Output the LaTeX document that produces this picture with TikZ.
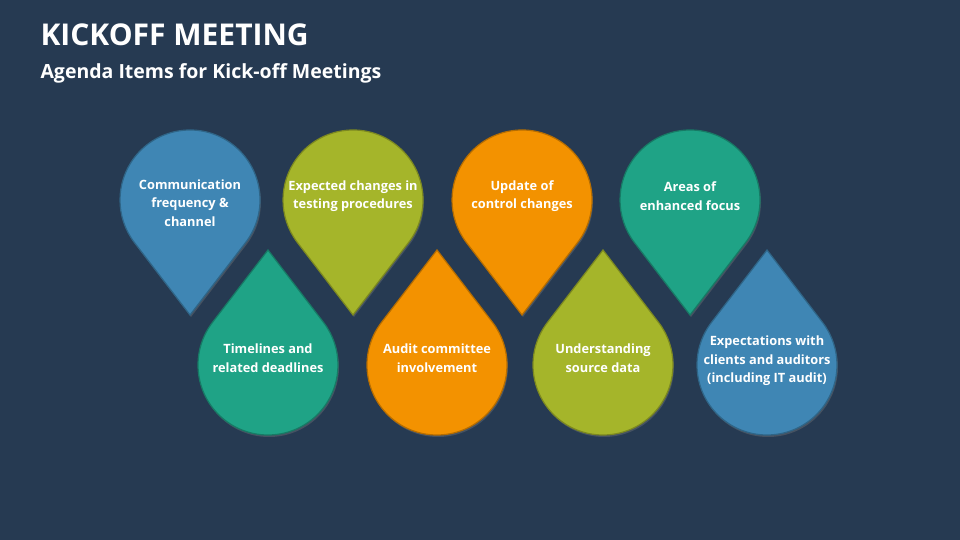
\documentclass[tikz,border=0pt]{standalone}
\usepackage{fontspec}
\setmainfont{Open Sans}
\usetikzlibrary{shadows}
\definecolor{bg}{HTML}{263A52}
\definecolor{cblue}{HTML}{3F86B4}
\definecolor{colive}{HTML}{A5B52A}
\definecolor{corange}{HTML}{F39200}
\definecolor{cteal}{HTML}{1FA386}
\tikzset{
  droptxt/.style={text=white,align=center,font=\fontsize{12.8}{18.5}\selectfont\bfseries},
  dropfill/.style={fill=#1,draw=#1!75!black,line width=1.2pt,drop shadow={opacity=0.35,shadow xshift=1pt,shadow yshift=-2pt}}
}
\newcommand{\dropshape}[5]{% x, y, rotation, color, name
  \begin{scope}[shift={(#1,#2)},rotate=#3]
    \path[dropfill=#4] (0,-115) -- (-37.5:70) arc[start angle=-37.5,end angle=217.5,radius=70] -- cycle;
  \end{scope}
  \coordinate (#5) at (#1,#2);
}
\begin{document}
\begin{tikzpicture}[x=1pt,y=1pt]
\fill[bg] (0,0) rectangle (960,540);
\useasboundingbox (0,0) rectangle (960,540);
\node[anchor=west,text=white,font=\fontsize{30}{34}\selectfont\bfseries] (title) at (37,505) {KICKOFF MEETING};
\node[anchor=west,text=white,font=\fontsize{19.5}{24}\selectfont\bfseries] (sub) at (37,467) {Agenda Items for Kick-off Meetings};
\dropshape{190}{340}{0}{cblue}{d1}
\dropshape{353}{340}{0}{colive}{d2}
\dropshape{522}{340}{0}{corange}{d3}
\dropshape{690}{340}{0}{cteal}{d4}
\dropshape{268}{175}{180}{cteal}{d5}
\dropshape{437}{175}{180}{corange}{d6}
\dropshape{603}{175}{180}{colive}{d7}
\dropshape{767}{175}{180}{cblue}{d8}
\node[droptxt] (t1) at ([yshift=-3]d1) {Communication\\frequency \&\\channel};
\node[droptxt] (t2) at ([yshift=4]d2) {Expected changes in\\testing procedures};
\node[droptxt] (t3) at ([yshift=4]d3) {Update of\\control changes};
\node[droptxt] (t4) at ([yshift=4]d4) {Areas of\\enhanced focus};
\node[droptxt] (t5) at ([yshift=7]d5) {Timelines and\\related deadlines};
\node[droptxt] (t6) at ([yshift=7]d6) {Audit committee\\involvement};
\node[droptxt] (t7) at ([yshift=7]d7) {Understanding\\source data};
\node[droptxt] (t8) at ([yshift=4]d8) {Expectations with\\clients and auditors\\(including IT audit)};
\end{tikzpicture}
\end{document}
